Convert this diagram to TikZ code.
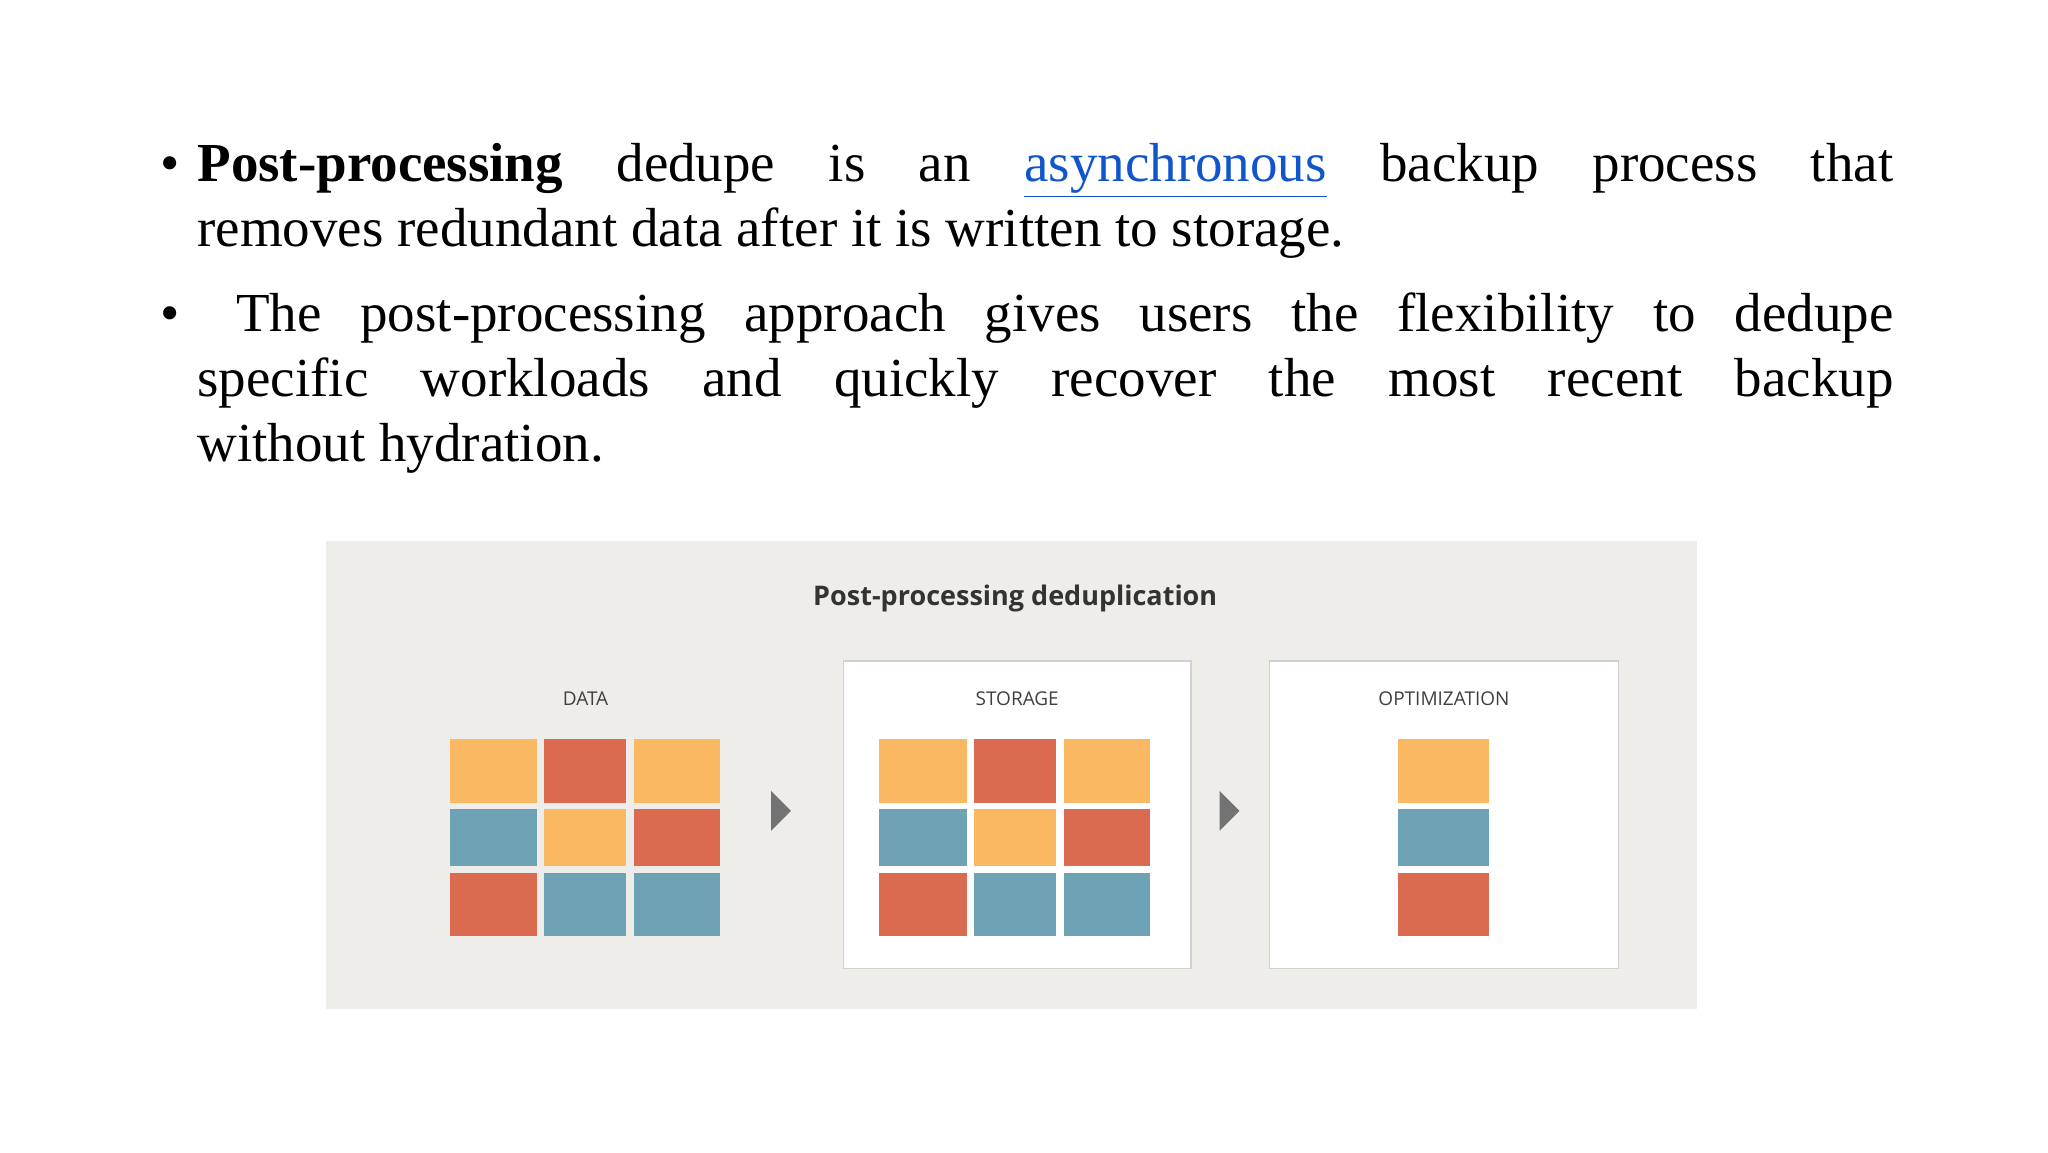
\documentclass[tikz,border=0pt]{standalone}
\usepackage{fontspec}
\setmainfont{Liberation Serif}
\newfontfamily\diag{Open Sans}
\definecolor{org}{HTML}{FBB862}
\definecolor{rd}{HTML}{DB6B50}
\definecolor{bl}{HTML}{6EA3B6}
\definecolor{pnl}{HTML}{EFEDEA}
\definecolor{lnk}{HTML}{1155CC}
\begin{document}
\begin{tikzpicture}[x=0.5pt,y=-0.5pt,
  lbl/.style={font=\diag\fontsize{9.5}{11}\selectfont, text=black!75},
  boxw/.style={fill=white,draw=black!18,line width=0.6pt}]
\useasboundingbox (0,0) rectangle (2048,1152);
\node[anchor=north west,inner sep=0pt,text width=848pt,align=justify,font=\fontsize{27.5}{32.5}\selectfont] (txt) at (197,143) {%
\noindent\leavevmode\llap{\textbullet\hspace{9pt}}\textbf{Post-processing} dedupe is an \textcolor{lnk}{\underline{asynchronous}} backup process that\linebreak removes redundant data after it is written to storage.\par\vspace{10pt}
\noindent\leavevmode\llap{\textbullet\hspace{9pt}}\ The post-processing approach gives users the flexibility to dedupe specific workloads and quickly recover the most recent backup\linebreak without hydration.\par};
\begin{scope}[scale=0.9924]
\fill[pnl] (328,545) rectangle (1710,1017);
\node[font=\diag\bfseries\fontsize{13.5}{15}\selectfont,text=black!80] (title) at (1023,603) {Post-processing deduplication};
\draw[boxw] (850,666) rectangle (1200,976);
\draw[boxw] (1279,666) rectangle (1631,976);
\node[lbl] (ldata) at (590,704) {DATA};
\node[lbl] (lstor) at (1025,704) {STORAGE};
\node[lbl] (lopt) at (1455,704) {OPTIMIZATION};
\foreach \xa/\xb [count=\i] in {453/541,548/631,639/726}{
  \foreach \ya/\yb [count=\j] in {745/809,815/873,880/943}{
    \pgfmathtruncatemacro{\k}{(\j-1)*3+\i}
    \ifcase\k\or\def\c{org}\or\def\c{rd}\or\def\c{org}\or\def\c{bl}\or\def\c{org}\or\def\c{rd}\or\def\c{rd}\or\def\c{bl}\or\def\c{bl}\fi
    \fill[\c] (\xa,\ya) rectangle (\xb,\yb);
    \fill[\c] (\xa+433,\ya) rectangle (\xb+433,\yb);
  }}
\fill[org] (1409,745) rectangle (1500,809);
\fill[bl] (1409,815) rectangle (1500,873);
\fill[rd] (1409,880) rectangle (1500,943);
\fill[black!55] (777,797) -- (797,817) -- (777,837) -- cycle;
\fill[black!55] (1229,797) -- (1249,817) -- (1229,837) -- cycle;
\end{scope}
\end{tikzpicture}
\end{document}
